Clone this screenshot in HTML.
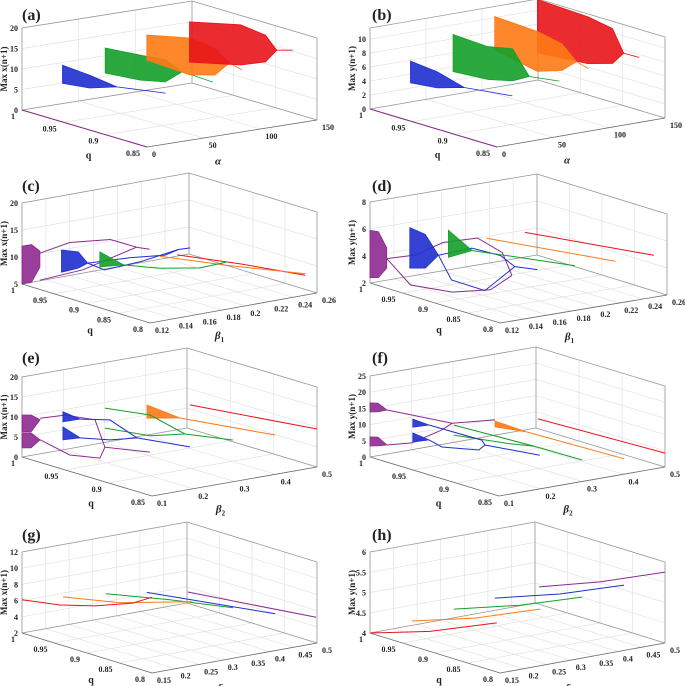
<!DOCTYPE html>
<html><head><meta charset="utf-8">
<style>
html,body{margin:0;padding:0;background:#fff;}
svg{display:block;}
text{font-family:"Liberation Serif","DejaVu Serif",serif;font-weight:bold;fill:#222;}
</style></head>
<body>
<svg id="chart" width="685" height="686" viewBox="0 0 685 686" xmlns="http://www.w3.org/2000/svg">
<rect x="0" y="0" width="685" height="686" fill="#fff"/>
</svg>
<script>
// ---- tick arrays ----
const A_ZT=[0,5,10,15,20];
const B_ZT=[0,2,4,6,8,10];
const AB_QT=[1,0.95,0.9,0.85];
const AB_PT=[0,50,100,150];
const C_ZT=[5,10,15,20];
const D_ZT=[2,4,6,8];
const CD_QT=[1,0.95,0.9,0.85,0.8];
const CD_PT=[0.12,0.14,0.16,0.18,0.2,0.22,0.24,0.26];
const E_ZT=[0,5,10,15,20];
const F_ZT=[0,5,10,15,20,25];
const EF_QT=[1,0.95,0.9,0.85];
const EF_PT=[0.1,0.2,0.3,0.4,0.5];
const G_ZT=[2,4,6,8,10,12];
const H_ZT=[4,4.5,5,5.5,6];
const GH_QT=[1,0.95,0.9,0.85,0.8];
const GH_PT=[0.15,0.2,0.25,0.3,0.35,0.4,0.45,0.5];

// ---- panel (a) data ----
const A_PURPLE_Q=[1,0.85], A_PURPLE_P=[0,0], A_PURPLE_Z=[0,0];
const A_BLUE_Q=0.98, A_BLUE_P=[21,45,69,112], A_BLUE_HI=[11.2,7.7,3.8,0.4], A_BLUE_LO=[6.8,4.6,3.8,0.4];
const A_GREEN_Q=0.96, A_GREEN_P=[44,75,97,112,139], A_GREEN_HI=[15.6,12.5,10.4,6.8,3.1], A_GREEN_LO=[9.5,6.4,5.0,6.8,3.1];
const A_ORANGE_Q=0.94, A_ORANGE_P=[66,104,126,139,150], A_ORANGE_HI=[19,16.6,13.2,9,6.8], A_ORANGE_LO=[12.9,7.6,6.6,9,6.8];
const A_RED_Q=0.92, A_RED_P=[89,134,156,166,180], A_RED_HI=[22.4,19.7,16.2,12.1,11.5], A_RED_LO=[12.6,9.9,9.7,12.1,11.5];
// ---- panel (b) data ----
const B_PURPLE_Q=[1,0.85], B_PURPLE_P=[0,0], B_PURPLE_Z=[0,0];
const B_BLUE_Q=0.98, B_BLUE_P=[21,45,69,112], B_BLUE_HI=[7.0,4.8,1.9,-0.5], B_BLUE_LO=[3.9,2.5,1.9,-0.5];
const B_GREEN_Q=0.96, B_GREEN_P=[44,75,97,112,139], B_GREEN_HI=[10.9,8.3,7.4,3.0,1.6], B_GREEN_LO=[5.6,3.6,2.8,3.0,1.6];
const B_ORANGE_Q=0.94, B_ORANGE_P=[66,104,126,139,150], B_ORANGE_HI=[13.6,10.4,8.0,5.1,3.8], B_ORANGE_LO=[8.8,4.7,4.2,5.1,3.8];
const B_RED_Q=0.92, B_RED_P=[89,134,156,166,180], B_RED_HI=[16.1,12.4,10.1,6.3,5.3], B_RED_LO=[8.5,5.7,5.1,6.3,5.3];
// ---- panel (c) data ----
const C_PURPLE_Q=1, C_PURPLE_BP=[0.12,0.128,0.135], C_PURPLE_HI=[12,12,10.5], C_PURPLE_LO=[5,5,7.5];
const C_PURPLE_UP_P=[0.135,0.160,0.194,0.216,0.227], C_PURPLE_UP_Z=[10.1,11.1,10.3,8.0,7.2];
const C_PURPLE_LW_P=[0.135,0.171,0.216], C_PURPLE_LW_Z=[5.1,5.6,8.0];
const C_BLUE_Q=0.97, C_BLUE_BP=[0.137,0.151,0.159], C_BLUE_HI=[11.7,10.8,8.4], C_BLUE_LO=[7.6,7.8,8.4];
const C_BLUE_UP_P=[0.159,0.194,0.224,0.235,0.245], C_BLUE_UP_Z=[8.4,8.0,7.3,7.9,7.8];
const C_BLUE_LW_P=[0.159,0.173,0.203,0.235], C_BLUE_LW_Z=[8.4,6.6,6.9,7.9];
const C_GREEN_Q=0.94, C_GREEN_BP=[0.153,0.173], C_GREEN_HI=[11.8,8.6], C_GREEN_LO=[9.0,8.6];
const C_GREEN_L_P=[0.173,0.203,0.237,0.260], C_GREEN_L_Z=[8.6,6.8,5.5,5.7];
const C_ORANGE_Q=0.82, C_ORANGE_P=[0.139,0.198,0.261], C_ORANGE_Z=[15.9,11.8,7.8];
const C_RED_Q=0.80, C_RED_P=[0.143,0.195,0.25], C_RED_Z=[16.7,13.0,8.7];
// ---- panel (d) data ----
const D_PURPLE_Q=1, D_PURPLE_BP=[0.12,0.127,0.134], D_PURPLE_HI=[5.9,5.7,4.4], D_PURPLE_LO=[2.4,2.3,2.9];
const D_PURPLE_UP_P=[0.134,0.159,0.181,0.210,0.231,0.239], D_PURPLE_UP_Z=[3.6,3.5,4.1,4.0,2.6,0.8];
const D_PURPLE_LW_P=[0.134,0.154,0.189,0.221,0.239], D_PURPLE_LW_Z=[3.6,1.35,0.3,0.0,0.8];
const D_BLUE_Q=0.97, D_BLUE_BP=[0.137,0.150,0.161], D_BLUE_HI=[6.3,5.6,3.9], D_BLUE_LO=[3.3,3.1,3.9];
const D_BLUE_UP_P=[0.161,0.189,0.213,0.225,0.244], D_BLUE_UP_Z=[3.9,4.0,3.1,2.1,1.6];
const D_BLUE_LW_P=[0.161,0.172,0.200,0.225], D_BLUE_LW_Z=[3.9,1.9,0.7,2.1];
const D_GREEN_Q=0.94, D_GREEN_BP=[0.153,0.173], D_GREEN_HI=[6.3,4.5], D_GREEN_LO=[4.3,4.5];
const D_GREEN_L_P=[0.173,0.213,0.259], D_GREEN_L_Z=[4.5,3.4,2.1];
const D_ORANGE_Q=0.85, D_ORANGE_P=[0.136,0.244], D_ORANGE_Z=[7.3,4.0];
const D_RED_Q=0.80, D_RED_P=[0.141,0.249], D_RED_Z=[8.4,5.1];
// ---- panel (e) data ----
const E_PURPLE_Q=1, E_PURPLE_BP=[0.1,0.122,0.144];
const E_PURPLE_HI1=[10.5,10.1,8.5], E_PURPLE_LO1=[6.3,5.9,8.5], E_PURPLE_HI2=[6,5.6,3.5], E_PURPLE_LO2=[2.3,1.9,3.5];
const E_PURPLE_UP_P=[0.144,0.204,0.277,0.301,0.410], E_PURPLE_UP_Z=[8.9,8.6,6.1,-1.2,-4.4];
const E_PURPLE_LW_P=[0.144,0.216,0.289,0.301], E_PURPLE_LW_Z=[3.5,-1.6,-3.7,-1.2];
const E_BLUE_Q=0.97, E_BLUE_BP=[0.136,0.178];
const E_BLUE_HI1=[12.6,10.0], E_BLUE_LO1=[10.1,10.0], E_BLUE_HI2=[8.8,5.3], E_BLUE_LO2=[5.6,5.3];
const E_BLUE_UP_P=[0.178,0.250,0.316,0.444], E_BLUE_UP_Z=[10.0,8.5,2.8,-1.75];
const E_BLUE_LW_P=[0.178,0.250,0.316], E_BLUE_LW_Z=[5.3,3.5,2.8];
const E_GREEN_Q=0.93, E_GREEN_UP_P=[0.154,0.263,0.348,0.464], E_GREEN_UP_Z=[15.8,12.1,5.8,2.2];
const E_GREEN_LW_P=[0.154,0.263,0.348], E_GREEN_LW_Z=[10.8,6.9,5.8];
const E_ORANGE_Q=0.87, E_ORANGE_BP=[0.130,0.210], E_ORANGE_HI=[20.9,16.2], E_ORANGE_LO=[17.6,16.2];
const E_ORANGE_L_P=[0.210,0.440], E_ORANGE_L_Z=[16.2,7.8];
const E_RED_Q=0.85, E_RED_P=[0.192,0.5], E_RED_Z=[21.1,9.5];
// ---- panel (f) data ----
const F_PURPLE_Q=1, F_PURPLE_BP=[0.1,0.119,0.141];
const F_PURPLE_HI1=[16.7,16.2,13.6], F_PURPLE_LO1=[13.9,13.5,13.6], F_PURPLE_HI2=[6.2,5.7,2.8], F_PURPLE_LO2=[3.4,3.0,2.8];
const F_PURPLE_UP_P=[0.141,0.201,0.298,0.401], F_PURPLE_UP_Z=[13.6,10.7,6.0,4.7];
const F_PURPLE_LW_P=[0.141,0.201,0.273,0.298], F_PURPLE_LW_Z=[2.8,2.1,4.5,6.0];
const F_BLUE_Q=0.97, F_BLUE_BP=[0.141,0.180];
const F_BLUE_HI1=[13.2,10.5], F_BLUE_LO1=[10.7,10.5], F_BLUE_HI2=[8.9,5.9], F_BLUE_LO2=[6.1,5.9];
const F_BLUE_UP_P=[0.180,0.307,0.315,0.447], F_BLUE_UP_Z=[10.5,3.0,1.3,-4.8];
const F_BLUE_LW_P=[0.180,0.211,0.300,0.315], F_BLUE_LW_Z=[5.9,3.0,0.1,1.3];
const F_GREEN_Q=0.93, F_GREEN_UP_P=[0.157,0.350,0.466], F_GREEN_UP_Z=[14.2,3.4,-3.5];
const F_GREEN_LW_P=[0.157,0.290,0.350], F_GREEN_LW_Z=[11.1,5.5,3.4];
const F_ORANGE_Q=0.87, F_ORANGE_BP=[0.132,0.209], F_ORANGE_HI=[20.8,15.7], F_ORANGE_LO=[19.0,15.7];
const F_ORANGE_L_P=[0.209,0.443], F_ORANGE_L_Z=[15.7,2.2];
const F_RED_Q=0.85, F_RED_P=[0.194,0.5], F_RED_Z=[21.7,4.3];
// ---- panel (g) data ----
const G_RED_Q=1, G_RED_P=[0.15,0.231,0.305,0.385,0.426], G_RED_Z=[6.1,4.6,3.7,3.2,3.5];
const G_ORANGE_Q=0.95, G_ORANGE_P=[0.168,0.289,0.442], G_ORANGE_Z=[7.5,5.5,4.0];
const G_GREEN_Q=0.9, G_GREEN_P=[0.190,0.326,0.460], G_GREEN_Z=[8.9,6.7,4.3];
const G_BLUE_Q=0.85, G_BLUE_P=[0.208,0.480], G_BLUE_Z=[10.1,4.6];
const G_PURPLE_Q=0.8, G_PURPLE_P=[0.226,0.498], G_PURPLE_Z=[11.2,5.2];
// ---- panel (h) data ----
const H_RED_Q=1, H_RED_P=[0.15,0.277,0.419], H_RED_Z=[4.0,3.77,3.68];
const H_ORANGE_Q=0.95, H_ORANGE_P=[0.170,0.304,0.442], H_ORANGE_Z=[4.50,4.29,4.22];
const H_GREEN_Q=0.9, H_GREEN_P=[0.190,0.330,0.462], H_GREEN_Z=[5.0,4.80,4.72];
const H_BLUE_Q=0.85, H_BLUE_P=[0.208,0.346,0.482], H_BLUE_Z=[5.48,5.29,5.22];
const H_PURPLE_Q=0.8, H_PURPLE_P=[0.233,0.362,0.5], H_PURPLE_Z=[5.95,5.80,5.75];

const C_R='#e8141a', C_O='#ff7a14', C_G='#14a02a', C_B='#1f2fd0', C_P='#8e2a90';
const NS='http://www.w3.org/2000/svg';
const svg=document.getElementById('chart');

const PANELS=[
 {id:'a',L:[22,110],F:[147,147],R:[317,120],H:82,q1:0.85,p0:0,p1:150,z0:0,z1:20,zT:A_ZT,qT:AB_QT,pT:AB_PT,zl:'Max x(n+1)',pl:'α',sub:'',lt:[22,20],
  s:[{c:C_P,line:[A_PURPLE_Q,A_PURPLE_P,A_PURPLE_Z],n:'purple'},
     {c:C_B,band:[A_BLUE_Q,A_BLUE_P,A_BLUE_HI,A_BLUE_LO],n:'blue'},
     {c:C_G,band:[A_GREEN_Q,A_GREEN_P,A_GREEN_HI,A_GREEN_LO],n:'green'},
     {c:C_O,band:[A_ORANGE_Q,A_ORANGE_P,A_ORANGE_HI,A_ORANGE_LO],n:'orange'},
     {c:C_R,band:[A_RED_Q,A_RED_P,A_RED_HI,A_RED_LO],n:'red'}]},
 {id:'b',L:[370,109],F:[497,147],R:[665,118],H:81,q1:0.85,p0:0,p1:150,z0:0,z1:11.6,zT:B_ZT,qT:AB_QT,pT:AB_PT,zl:'Max y(n+1)',pl:'α',sub:'',lt:[372,20],
  s:[{c:C_P,line:[B_PURPLE_Q,B_PURPLE_P,B_PURPLE_Z],n:'purple'},
     {c:C_R,band:[B_RED_Q,B_RED_P,B_RED_HI,B_RED_LO],n:'red'},
     {c:C_O,band:[B_ORANGE_Q,B_ORANGE_P,B_ORANGE_HI,B_ORANGE_LO],n:'orange'},
     {c:C_G,band:[B_GREEN_Q,B_GREEN_P,B_GREEN_HI,B_GREEN_LO],n:'green'},
     {c:C_B,band:[B_BLUE_Q,B_BLUE_P,B_BLUE_HI,B_BLUE_LO],n:'blue'}]},
 {id:'c',L:[22,284],F:[150,323],R:[317,293],H:81,q1:0.8,p0:0.12,p1:0.26,z0:5,z1:20,zT:C_ZT,qT:CD_QT,pT:CD_PT,zl:'Max x(n+1)',pl:'β',sub:'1',lt:[22,191],
  s:[{c:C_R,line:[C_RED_Q,C_RED_P,C_RED_Z],n:'red'},
     {c:C_O,line:[C_ORANGE_Q,C_ORANGE_P,C_ORANGE_Z],n:'orange'},
     {c:C_P,band:[C_PURPLE_Q,C_PURPLE_BP,C_PURPLE_HI,C_PURPLE_LO],n:'purple'},
     {c:C_P,line:[C_PURPLE_Q,C_PURPLE_UP_P,C_PURPLE_UP_Z],n:'purple-upper'},
     {c:C_P,line:[C_PURPLE_Q,C_PURPLE_LW_P,C_PURPLE_LW_Z],n:'purple-lower'},
     {c:C_B,band:[C_BLUE_Q,C_BLUE_BP,C_BLUE_HI,C_BLUE_LO],n:'blue'},
     {c:C_B,line:[C_BLUE_Q,C_BLUE_UP_P,C_BLUE_UP_Z],n:'blue-upper'},
     {c:C_B,line:[C_BLUE_Q,C_BLUE_LW_P,C_BLUE_LW_Z],n:'blue-lower'},
     {c:C_G,band:[C_GREEN_Q,C_GREEN_BP,C_GREEN_HI,C_GREEN_LO],n:'green'},
     {c:C_G,line:[C_GREEN_Q,C_GREEN_L_P,C_GREEN_L_Z],n:'green-branch'}]},
 {id:'d',L:[370,283],F:[500,323],R:[667,295],H:81,q1:0.8,p0:0.12,p1:0.26,z0:2,z1:8,zT:D_ZT,qT:CD_QT,pT:CD_PT,zl:'Max y(n+1)',pl:'β',sub:'1',lt:[372,191],
  s:[{c:C_R,line:[D_RED_Q,D_RED_P,D_RED_Z],n:'red'},
     {c:C_O,line:[D_ORANGE_Q,D_ORANGE_P,D_ORANGE_Z],n:'orange'},
     {c:C_P,band:[D_PURPLE_Q,D_PURPLE_BP,D_PURPLE_HI,D_PURPLE_LO],n:'purple'},
     {c:C_P,line:[D_PURPLE_Q,D_PURPLE_UP_P,D_PURPLE_UP_Z],n:'purple-upper'},
     {c:C_P,line:[D_PURPLE_Q,D_PURPLE_LW_P,D_PURPLE_LW_Z],n:'purple-lower'},
     {c:C_B,band:[D_BLUE_Q,D_BLUE_BP,D_BLUE_HI,D_BLUE_LO],n:'blue'},
     {c:C_B,line:[D_BLUE_Q,D_BLUE_UP_P,D_BLUE_UP_Z],n:'blue-upper'},
     {c:C_B,line:[D_BLUE_Q,D_BLUE_LW_P,D_BLUE_LW_Z],n:'blue-lower'},
     {c:C_G,band:[D_GREEN_Q,D_GREEN_BP,D_GREEN_HI,D_GREEN_LO],n:'green'},
     {c:C_G,line:[D_GREEN_Q,D_GREEN_L_P,D_GREEN_L_Z],n:'green-branch'}]},
 {id:'e',L:[22,457],F:[152,496],R:[317,467],H:80,q1:0.85,p0:0.1,p1:0.5,z0:0,z1:20,zT:E_ZT,qT:EF_QT,pT:EF_PT,zl:'Max x(n+1)',pl:'β',sub:'2',lt:[22,363],
  s:[{c:C_R,line:[E_RED_Q,E_RED_P,E_RED_Z],n:'red'},
     {c:C_O,band:[E_ORANGE_Q,E_ORANGE_BP,E_ORANGE_HI,E_ORANGE_LO],n:'orange'},
     {c:C_O,line:[E_ORANGE_Q,E_ORANGE_L_P,E_ORANGE_L_Z],n:'orange-branch'},
     {c:C_G,line:[E_GREEN_Q,E_GREEN_UP_P,E_GREEN_UP_Z],n:'green-upper'},
     {c:C_G,line:[E_GREEN_Q,E_GREEN_LW_P,E_GREEN_LW_Z],n:'green-lower'},
     {c:C_P,band:[E_PURPLE_Q,E_PURPLE_BP,E_PURPLE_HI1,E_PURPLE_LO1],n:'purple-top'},
     {c:C_P,band:[E_PURPLE_Q,E_PURPLE_BP,E_PURPLE_HI2,E_PURPLE_LO2],n:'purple-bottom'},
     {c:C_P,line:[E_PURPLE_Q,E_PURPLE_UP_P,E_PURPLE_UP_Z],n:'purple-upper'},
     {c:C_P,line:[E_PURPLE_Q,E_PURPLE_LW_P,E_PURPLE_LW_Z],n:'purple-lower'},
     {c:C_B,band:[E_BLUE_Q,E_BLUE_BP,E_BLUE_HI1,E_BLUE_LO1],n:'blue-top'},
     {c:C_B,band:[E_BLUE_Q,E_BLUE_BP,E_BLUE_HI2,E_BLUE_LO2],n:'blue-bottom'},
     {c:C_B,line:[E_BLUE_Q,E_BLUE_UP_P,E_BLUE_UP_Z],n:'blue-upper'},
     {c:C_B,line:[E_BLUE_Q,E_BLUE_LW_P,E_BLUE_LW_Z],n:'blue-lower'}]},
 {id:'f',L:[370,457],F:[499,496],R:[665,467],H:81,q1:0.85,p0:0.1,p1:0.5,z0:0,z1:25,zT:F_ZT,qT:EF_QT,pT:EF_PT,zl:'Max y(n+1)',pl:'β',sub:'2',lt:[372,363],
  s:[{c:C_R,line:[F_RED_Q,F_RED_P,F_RED_Z],n:'red'},
     {c:C_O,band:[F_ORANGE_Q,F_ORANGE_BP,F_ORANGE_HI,F_ORANGE_LO],n:'orange'},
     {c:C_O,line:[F_ORANGE_Q,F_ORANGE_L_P,F_ORANGE_L_Z],n:'orange-branch'},
     {c:C_G,line:[F_GREEN_Q,F_GREEN_UP_P,F_GREEN_UP_Z],n:'green-upper'},
     {c:C_G,line:[F_GREEN_Q,F_GREEN_LW_P,F_GREEN_LW_Z],n:'green-lower'},
     {c:C_P,band:[F_PURPLE_Q,F_PURPLE_BP,F_PURPLE_HI1,F_PURPLE_LO1],n:'purple-top'},
     {c:C_P,band:[F_PURPLE_Q,F_PURPLE_BP,F_PURPLE_HI2,F_PURPLE_LO2],n:'purple-bottom'},
     {c:C_P,line:[F_PURPLE_Q,F_PURPLE_UP_P,F_PURPLE_UP_Z],n:'purple-upper'},
     {c:C_P,line:[F_PURPLE_Q,F_PURPLE_LW_P,F_PURPLE_LW_Z],n:'purple-lower'},
     {c:C_B,band:[F_BLUE_Q,F_BLUE_BP,F_BLUE_HI1,F_BLUE_LO1],n:'blue-top'},
     {c:C_B,band:[F_BLUE_Q,F_BLUE_BP,F_BLUE_HI2,F_BLUE_LO2],n:'blue-bottom'},
     {c:C_B,line:[F_BLUE_Q,F_BLUE_UP_P,F_BLUE_UP_Z],n:'blue-upper'},
     {c:C_B,line:[F_BLUE_Q,F_BLUE_LW_P,F_BLUE_LW_Z],n:'blue-lower'}]},
 {id:'g',L:[22,633],F:[152,673],R:[317,643],H:81,q1:0.8,p0:0.15,p1:0.5,z0:2,z1:12,zT:G_ZT,qT:GH_QT,pT:GH_PT,zl:'Max x(n+1)',pl:'ε',sub:'',lt:[22,540],
  s:[{c:C_P,line:[G_PURPLE_Q,G_PURPLE_P,G_PURPLE_Z],n:'purple'},
     {c:C_B,line:[G_BLUE_Q,G_BLUE_P,G_BLUE_Z],n:'blue'},
     {c:C_G,line:[G_GREEN_Q,G_GREEN_P,G_GREEN_Z],n:'green'},
     {c:C_O,line:[G_ORANGE_Q,G_ORANGE_P,G_ORANGE_Z],n:'orange'},
     {c:C_R,line:[G_RED_Q,G_RED_P,G_RED_Z],n:'red'}]},
 {id:'h',L:[370,633],F:[500,673],R:[665,643],H:81,q1:0.8,p0:0.15,p1:0.5,z0:4,z1:6,zT:H_ZT,qT:GH_QT,pT:GH_PT,zl:'Max y(n+1)',pl:'ε',sub:'',lt:[372,540],
  s:[{c:C_P,line:[H_PURPLE_Q,H_PURPLE_P,H_PURPLE_Z],n:'purple'},
     {c:C_B,line:[H_BLUE_Q,H_BLUE_P,H_BLUE_Z],n:'blue'},
     {c:C_G,line:[H_GREEN_Q,H_GREEN_P,H_GREEN_Z],n:'green'},
     {c:C_O,line:[H_ORANGE_Q,H_ORANGE_P,H_ORANGE_Z],n:'orange'},
     {c:C_R,line:[H_RED_Q,H_RED_P,H_RED_Z],n:'red'}]}
];

function mk(tag,attrs,parent){const e=document.createElementNS(NS,tag);for(const k in attrs)e.setAttribute(k,attrs[k]);parent.appendChild(e);return e;}
function proj(P,q,p,z){
  const a=(q-1)/(P.q1-1), b=(p-P.p0)/(P.p1-P.p0), c=(z-P.z0)/(P.z1-P.z0);
  return [P.L[0]+a*(P.F[0]-P.L[0])+b*(P.R[0]-P.F[0]), P.L[1]+a*(P.F[1]-P.L[1])+b*(P.R[1]-P.F[1])-c*P.H];
}
function pts(arr){return arr.map(v=>v[0].toFixed(1)+','+v[1].toFixed(1)).join(' ');}
function fmt(v){return String(v);}

PANELS.forEach(P=>{
  const g=mk('g',{},svg);
  
  
  const grid=mk('g',{stroke:'#e2e2e2','stroke-width':0.7,fill:'none'},g);
  
  
  P.zT.forEach(z=>{
    const a=proj(P,1,P.p0,z), b=proj(P,1,P.p1,z), c=proj(P,P.q1,P.p1,z);
    mk('polyline',{points:pts([a,b,c])},grid);
  });
  P.pT.forEach(p=>{
    mk('polyline',{points:pts([proj(P,P.q1,p,P.z0),proj(P,1,p,P.z0),proj(P,1,p,P.z1)])},grid);
  });
  P.qT.forEach(q=>{
    mk('polyline',{points:pts([proj(P,q,P.p0,P.z0),proj(P,q,P.p1,P.z0),proj(P,q,P.p1,P.z1)])},grid);
  });
  const box=mk('g',{stroke:'#9a9a9a','stroke-width':0.8,fill:'none'},g);
  
  
  const Lb=proj(P,1,P.p0,P.z0), Lt=proj(P,1,P.p0,P.z1), Bb=proj(P,1,P.p1,P.z0), Bt=proj(P,1,P.p1,P.z1);
  const Rb=proj(P,P.q1,P.p1,P.z0), Rt=proj(P,P.q1,P.p1,P.z1), Fb=proj(P,P.q1,P.p0,P.z0);
  mk('polyline',{points:pts([Lb,Lt,Bt,Rt,Rb])},box);
  mk('polyline',{points:pts([Lb,Bb,Rb])},box);
  mk('line',{x1:Bb[0],y1:Bb[1],x2:Bt[0],y2:Bt[1]},box);
  mk('polyline',{points:pts([Lb,Fb,Rb]),stroke:'#6a6a6a'},box);
  P.s.forEach(S=>{
    if(S.band){
      const [q,ps,hi,lo]=S.band;
      const top=ps.map((p,i)=>proj(P,q,p,hi[i]));
      const bot=ps.map((p,i)=>proj(P,q,p,lo[i])).reverse();
      const e=mk('polygon',{points:pts(top.concat(bot)),fill:S.c,'fill-opacity':0.9,stroke:S.c,'stroke-width':0.8},g);
      
      
    } else {
      const [q,ps,zs]=S.line;
      const xy=ps.map((p,i)=>proj(P,Array.isArray(q)?q[i]:q,p,zs[i]));
      const e=mk('polyline',{points:pts(xy),fill:'none',stroke:S.c,'stroke-width':1}, g);
      
      
    }
  });
  P.zT.forEach(z=>{
    const a=proj(P,1,P.p0,z);
    const t=mk('text',{x:a[0]-4,y:a[1]+3,'text-anchor':'end','font-size':8},g);
    t.textContent=fmt(z);
    
    
  });
  P.qT.forEach(q=>{
    const a=proj(P,q,P.p0,P.z0);
    const t=mk('text',{x:a[0]-7,y:a[1]+9,'text-anchor':'end','font-size':8},g);
    t.textContent=fmt(q);
    
    
  });
  P.pT.forEach(p=>{
    const a=proj(P,P.q1,p,P.z0);
    const t=mk('text',{x:a[0]+5,y:a[1]+10,'text-anchor':'start','font-size':8},g);
    t.textContent=fmt(p);
    
    
  });
  const zm=(Lb[1]+Lt[1])/2;
  const zx=P.L[0]-15;
  const zl=mk('text',{x:zx,y:zm,'text-anchor':'middle','font-size':9,transform:'rotate(-90 '+zx+' '+zm+')'},g);
  zl.textContent=P.zl;
  
  
  const qm=[(Lb[0]+Fb[0])/2+4,(Lb[1]+Fb[1])/2+30];
  const ql=mk('text',{x:qm[0],y:qm[1],'text-anchor':'middle','font-size':10},g);
  ql.textContent='q';
  
  
  const pm=[(Fb[0]+Rb[0])/2-14,(Fb[1]+Rb[1])/2+31];
  const pl=mk('text',{x:pm[0],y:pm[1],'text-anchor':'middle','font-size':11,'font-style':'italic','font-weight':'normal'},g);
  pl.textContent=P.pl;
  if(P.sub){const s=mk('tspan',{'font-size':7,dy:3,'font-style':'normal'},pl);s.textContent=P.sub;}
  
  
  const lt=mk('text',{x:P.lt[0],y:P.lt[1],'font-size':16,fill:'#111'},g);
  lt.textContent='('+P.id+')';
  
  
});
</script>
</body></html>
